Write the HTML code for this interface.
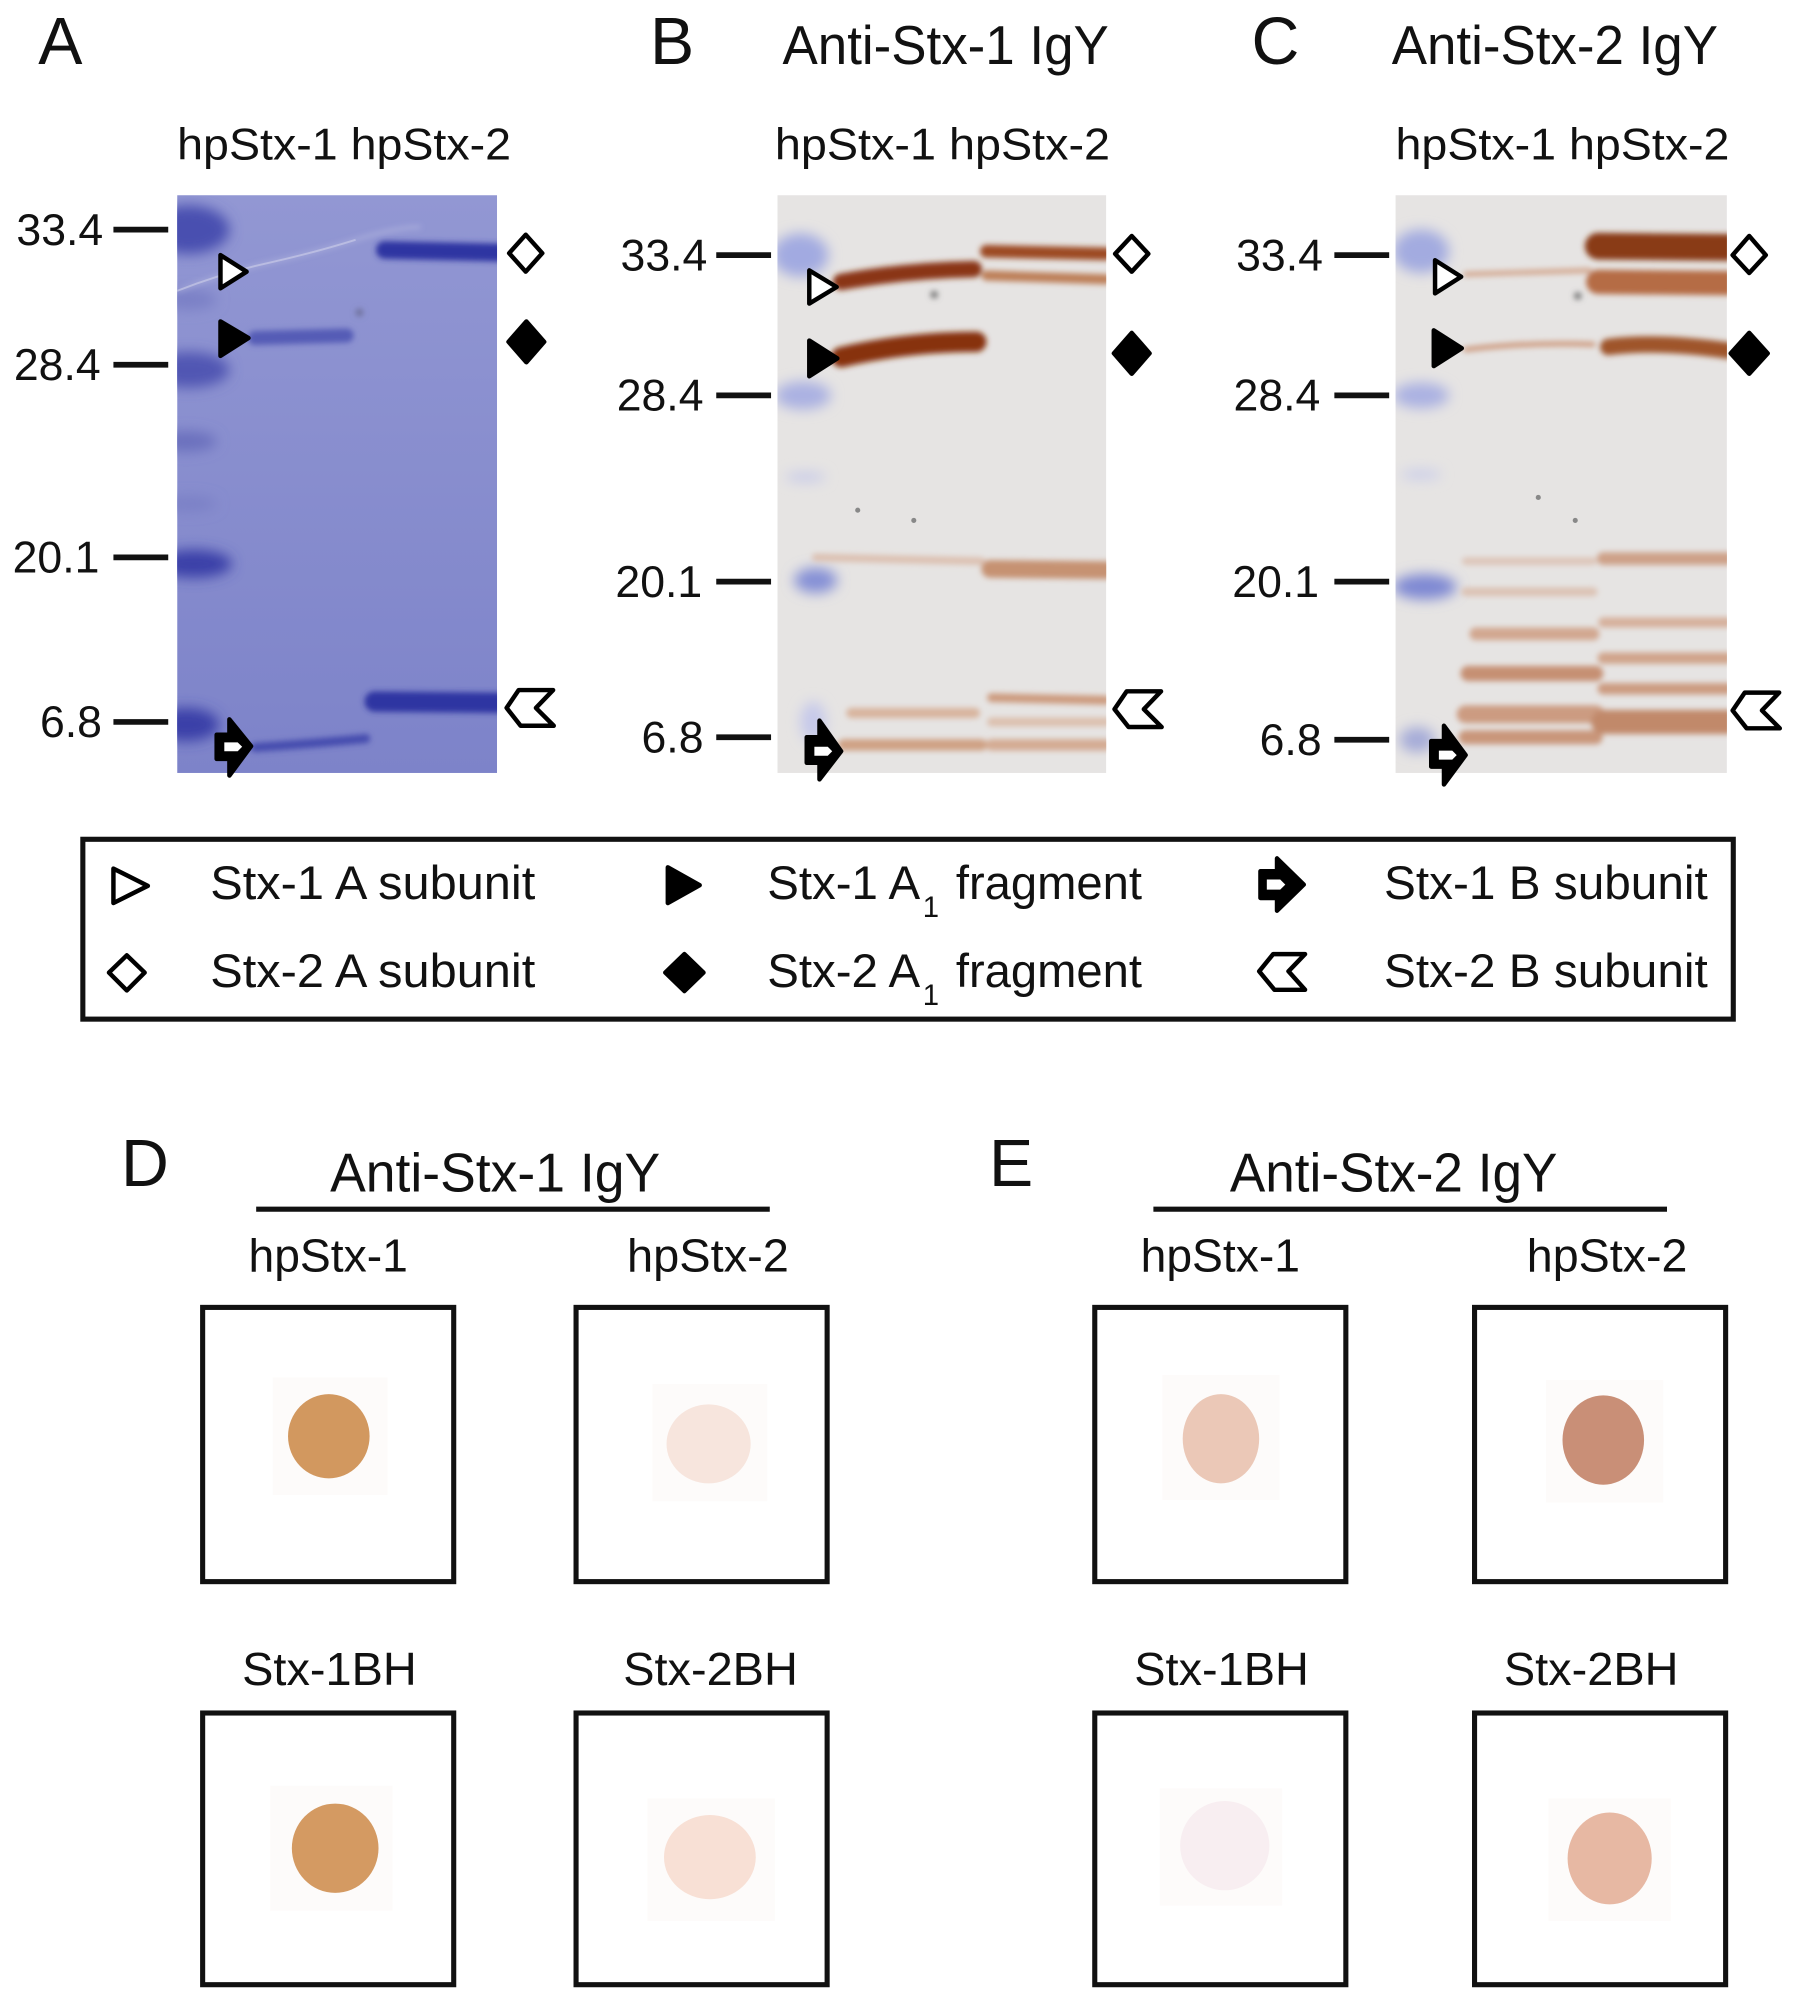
<!DOCTYPE html>
<html><head><meta charset="utf-8">
<style>
html,body{margin:0;padding:0;background:#fff}
svg{display:block}
text{font-family:"Liberation Sans",Arial,Helvetica,sans-serif;fill:#111}
</style></head>
<body>
<svg width="1797" height="2000" viewBox="0 0 1410 1568" preserveAspectRatio="none">
<defs>
<filter id="b2" filterUnits="userSpaceOnUse" x="0" y="0" width="1410" height="1568"><feGaussianBlur stdDeviation="2.2"/></filter>
<filter id="b3" filterUnits="userSpaceOnUse" x="0" y="0" width="1410" height="1568"><feGaussianBlur stdDeviation="3"/></filter>
<filter id="b5" filterUnits="userSpaceOnUse" x="0" y="0" width="1410" height="1568"><feGaussianBlur stdDeviation="5"/></filter>
<linearGradient id="ga" x1="0" y1="0" x2="0" y2="1"><stop offset="0" stop-color="#9297d3"/><stop offset="1" stop-color="#7d83c9"/></linearGradient>
<clipPath id="cA"><rect x="139" y="153" width="251" height="453"/></clipPath>
<clipPath id="cB"><rect x="610" y="153" width="258" height="453"/></clipPath>
<clipPath id="cC"><rect x="1095" y="153" width="260" height="453"/></clipPath>
</defs>

<!-- Panel letters and titles -->
<text x="30" y="50" font-size="52">A</text>
<text x="510" y="50" font-size="52">B</text>
<text x="982" y="50" font-size="52">C</text>
<text x="614" y="50" font-size="43" textLength="256" lengthAdjust="spacingAndGlyphs">Anti-Stx-1 IgY</text>
<text x="1092" y="50" font-size="43" textLength="256" lengthAdjust="spacingAndGlyphs">Anti-Stx-2 IgY</text>
<text x="139" y="125" font-size="35" textLength="262" lengthAdjust="spacingAndGlyphs">hpStx-1 hpStx-2</text>
<text x="608" y="125" font-size="35" textLength="263" lengthAdjust="spacingAndGlyphs">hpStx-1 hpStx-2</text>
<text x="1095" y="125" font-size="35" textLength="262" lengthAdjust="spacingAndGlyphs">hpStx-1 hpStx-2</text>

<!-- ===== Gel A ===== -->
<g clip-path="url(#cA)">
<rect x="139" y="153" width="251" height="453" fill="url(#ga)"/>
<g filter="url(#b5)">
<ellipse cx="148" cy="180" rx="32" ry="19" fill="#4a50b0"/>
<ellipse cx="148" cy="235" rx="22" ry="8" fill="#7a80c6"/>
<ellipse cx="148" cy="290" rx="32" ry="14" fill="#5157b3"/>
<ellipse cx="146" cy="346" rx="24" ry="8" fill="#6a70bd"/>
<ellipse cx="148" cy="395" rx="22" ry="6" fill="#7a80c6"/>
<ellipse cx="152" cy="442" rx="30" ry="11" fill="#3b41a8"/>
<ellipse cx="146" cy="568" rx="26" ry="13" fill="#3b41a8"/>
</g>
<g filter="url(#b2)" stroke-linecap="round" fill="none">
<path d="M200 265 L272 263" stroke="#555bb6" stroke-width="11"/>
<path d="M200 586 Q245 583 287 579" stroke="#454bae" stroke-width="7"/>
<path d="M302 196 L392 198" stroke="#2f35a2" stroke-width="14"/>
<path d="M294 550 L392 551" stroke="#2f35a2" stroke-width="16"/>
</g>
<path d="M139 228 Q175 214 211 206 T279 188 T330 178" stroke="#c4c7e6" stroke-opacity="0.6" stroke-width="2" fill="none" filter="url(#b2)"/>
<path d="M139 228 Q175 214 211 206 T279 188" stroke="#cfd1ea" stroke-opacity="0.6" stroke-width="1.5" fill="none"/>
<circle cx="282" cy="245" r="3" fill="#6d6f99" filter="url(#b2)"/>
</g>

<!-- ===== Gel B ===== -->
<g clip-path="url(#cB)">
<rect x="610" y="153" width="258" height="453" fill="#e6e4e3"/>
<g filter="url(#b5)">
<ellipse cx="628" cy="200" rx="22" ry="17" fill="#a2aae1"/>
<ellipse cx="630" cy="310" rx="22" ry="11" fill="#aab1e2"/>
<ellipse cx="632" cy="374" rx="16" ry="4" fill="#c8cbe8"/>
<ellipse cx="640" cy="455" rx="17" ry="10" fill="#8590d6"/>
<ellipse cx="638" cy="566" rx="10" ry="16" fill="#c6c9ea"/>
</g>
<g filter="url(#b2)" stroke-linecap="round" fill="none">
<path d="M660 221 Q710 212 764 211" stroke="#8a3614" stroke-width="13"/>
<path d="M660 280 Q712 268 766 268" stroke="#87320f" stroke-width="16"/>
<path d="M774 197 L868 199" stroke="#9c4922" stroke-width="10"/>
<path d="M774 216 L868 219" stroke="#bd7f59" stroke-width="8"/>
<path d="M640 437 L770 440" stroke="#dcc0b0" stroke-width="6"/>
<path d="M777 446 L868 447" stroke="#c69272" stroke-width="14"/>
<path d="M668 559 L765 559" stroke="#d8b49d" stroke-width="8"/>
<path d="M662 584 L770 584" stroke="#cfa184" stroke-width="9"/>
<path d="M778 547 L868 549" stroke="#cc9a7d" stroke-width="7"/>
<path d="M778 566 L868 566" stroke="#dcbfad" stroke-width="7"/>
<path d="M778 584 L868 584" stroke="#d4ab93" stroke-width="9"/>
</g>
<circle cx="733" cy="231" r="3" fill="#777" filter="url(#b2)"/>
<circle cx="673" cy="400" r="2" fill="#888"/>
<circle cx="717" cy="408" r="2" fill="#888"/>
</g>

<!-- ===== Gel C ===== -->
<g clip-path="url(#cC)">
<rect x="1095" y="153" width="260" height="453" fill="#e6e4e3"/>
<g filter="url(#b5)">
<ellipse cx="1115" cy="197" rx="22" ry="17" fill="#a3abe0"/>
<ellipse cx="1115" cy="310" rx="22" ry="10" fill="#aab1e2"/>
<ellipse cx="1115" cy="372" rx="16" ry="4" fill="#cbcee9"/>
<ellipse cx="1118" cy="460" rx="25" ry="10" fill="#7e88d3"/>
<ellipse cx="1112" cy="580" rx="14" ry="10" fill="#a6acd8"/>
</g>
<g filter="url(#b2)" stroke-linecap="round" fill="none">
<path d="M1150 215 L1247 212" stroke="#d3a78f" stroke-width="4"/>
<path d="M1150 274 Q1200 268 1250 270" stroke="#cd9a7e" stroke-width="4"/>
<path d="M1150 440 L1250 440" stroke="#ddc5b8" stroke-width="6"/>
<path d="M1150 464 L1250 464" stroke="#dcc2b4" stroke-width="7"/>
<path d="M1158 497 L1250 497" stroke="#d2a790" stroke-width="10"/>
<path d="M1152 528 L1252 528" stroke="#c69073" stroke-width="12"/>
<path d="M1150 560 L1252 560" stroke="#cc9b81" stroke-width="14"/>
<path d="M1150 578 L1252 578" stroke="#c9967a" stroke-width="11"/>
<path d="M1254 193 L1357 194" stroke="#893a17" stroke-width="21"/>
<path d="M1254 221 L1357 222" stroke="#b56c44" stroke-width="19"/>
<path d="M1262 272 Q1300 267 1357 275" stroke="#9f542b" stroke-width="13"/>
<path d="M1258 438 L1357 438" stroke="#cea188" stroke-width="10"/>
<path d="M1258 488 L1357 488" stroke="#d6b09b" stroke-width="8"/>
<path d="M1258 516 L1357 516" stroke="#d0a48b" stroke-width="9"/>
<path d="M1258 540 L1357 540" stroke="#cc9b81" stroke-width="9"/>
<path d="M1258 566 L1357 566" stroke="#c1896b" stroke-width="19"/>
</g>
<circle cx="1238" cy="232" r="3" fill="#777" filter="url(#b2)"/>
<circle cx="1207" cy="390" r="2" fill="#888"/>
<circle cx="1236" cy="408" r="2" fill="#888"/>
</g>

<!-- ===== Tick marks & labels ===== -->
<g stroke="#111" stroke-width="4.5">
<line x1="89" y1="180" x2="132" y2="180"/>
<line x1="89" y1="286" x2="132" y2="286"/>
<line x1="89" y1="437" x2="132" y2="437"/>
<line x1="89" y1="566" x2="132" y2="566"/>
<line x1="562" y1="200" x2="605" y2="200"/>
<line x1="562" y1="310" x2="605" y2="310"/>
<line x1="562" y1="456" x2="605" y2="456"/>
<line x1="562" y1="578" x2="605" y2="578"/>
<line x1="1047" y1="200" x2="1090" y2="200"/>
<line x1="1047" y1="310" x2="1090" y2="310"/>
<line x1="1047" y1="456" x2="1090" y2="456"/>
<line x1="1047" y1="580" x2="1090" y2="580"/>
</g>
<g font-size="35" text-anchor="end">
<text x="81" y="192">33.4</text>
<text x="79" y="298">28.4</text>
<text x="78" y="449">20.1</text>
<text x="80" y="578">6.8</text>
<text x="555" y="212">33.4</text>
<text x="552" y="322">28.4</text>
<text x="551" y="468">20.1</text>
<text x="552" y="590">6.8</text>
<text x="1038" y="212">33.4</text>
<text x="1036" y="322">28.4</text>
<text x="1035" y="468">20.1</text>
<text x="1037" y="592">6.8</text>
</g>

<!-- ===== Markers ===== -->
<g stroke="#000" stroke-width="3.5" stroke-linejoin="round">
<polygon points="173,200 193.5,213 173,226" fill="#fff"/>
<polygon points="635,212 656.5,225 635,238" fill="#fff"/>
<polygon points="1126,204 1146.5,217 1126,230" fill="#fff"/>
<polygon points="89,681 116,694.5 89,708" fill="#fff"/>
<polygon points="173,252 195,265 173,279" fill="#000"/>
<polygon points="635,267 657,281 635,295" fill="#000"/>
<polygon points="1125,259 1147,273 1125,287" fill="#000"/>
<polygon points="524,680 549,694 524,708" fill="#000"/>
<polygon points="412.5,184 425.5,198.5 412.5,213 399.5,198.5" fill="#fff"/>
<polygon points="888,185 901,199 888,213 875,199" fill="#fff"/>
<polygon points="1372.5,185 1385.5,200 1372.5,214 1359.5,200" fill="#fff"/>
<polygon points="99.5,749 113.5,762.5 99.5,776.5 85.5,762.5" fill="#fff"/>
<polygon points="413,252 427,268 413,284 399,268" fill="#000"/>
<polygon points="888,261 902,277 888,293 874,277" fill="#000"/>
<polygon points="1372.5,261 1387,277 1372.5,293 1358,277" fill="#000"/>
<polygon points="537,748 552,762.5 537,777 522,762.5" fill="#000"/>
<polygon points="407,541 434,541 420.5,555 434.5,569 408.5,569 397.5,555" fill="#fff"/>
<polygon points="884,542 911,542 897.5,556 911.5,570 885.5,570 874.5,556" fill="#fff"/>
<polygon points="1369,543 1396,543 1382.5,557 1396.5,571 1370.5,571 1359.5,557" fill="#fff"/>
<polygon points="999,748 1024,748 1011,761.5 1024,776 1000,776 988,761.5" fill="#fff"/>
<polygon points="170,576 180,576 180,564 197,585 180,608 180,595 170,595" fill="#000"/>
<polygon points="633,578 643,578 643,565 660,589 643,611 643,598 633,598" fill="#000"/>
<polygon points="1123,581 1133,581 1133,569 1150,592 1133,615 1133,601 1123,601" fill="#000"/>
<polygon points="989,683 1002,683 1002,673 1023,693.5 1002,714 1002,704 989,704" fill="#000"/>
</g>
<g fill="#fff">
<polygon points="176,582 186.5,582 190,585.5 186.5,589 176,589"/>
<polygon points="639,585.5 649.5,585.5 653,589 649.5,592.5 639,592.5"/>
<polygon points="1129,588.5 1139.5,588.5 1143,592 1139.5,595.5 1129,595.5"/>
<polygon points="994,689.5 1004.5,689.5 1008.5,693.5 1004.5,697.5 994,697.5"/>
</g>

<!-- ===== Legend ===== -->
<rect x="65" y="658" width="1295" height="141" fill="none" stroke="#111" stroke-width="4"/>
<g font-size="37">
<text x="165" y="705" textLength="255" lengthAdjust="spacingAndGlyphs">Stx-1 A subunit</text>
<text x="165" y="774" textLength="255" lengthAdjust="spacingAndGlyphs">Stx-2 A subunit</text>
<text x="602" y="705" textLength="120" lengthAdjust="spacingAndGlyphs">Stx-1 A</text>
<text x="602" y="774" textLength="120" lengthAdjust="spacingAndGlyphs">Stx-2 A</text>
<text x="750" y="705" textLength="146" lengthAdjust="spacingAndGlyphs">fragment</text>
<text x="750" y="774" textLength="146" lengthAdjust="spacingAndGlyphs">fragment</text>
<text x="1086" y="705" textLength="254" lengthAdjust="spacingAndGlyphs">Stx-1 B subunit</text>
<text x="1086" y="774" textLength="254" lengthAdjust="spacingAndGlyphs">Stx-2 B subunit</text>
</g>
<text x="724" y="719" font-size="23">1</text>
<text x="724" y="788" font-size="23">1</text>

<!-- ===== Panel D ===== -->
<text x="95" y="930" font-size="52">D</text>
<text x="259" y="934" font-size="43" textLength="259" lengthAdjust="spacingAndGlyphs">Anti-Stx-1 IgY</text>
<line x1="201" y1="948" x2="604" y2="948" stroke="#111" stroke-width="4"/>
<g font-size="36">
<text x="195" y="997" textLength="125" lengthAdjust="spacingAndGlyphs">hpStx-1</text>
<text x="492" y="997" textLength="127" lengthAdjust="spacingAndGlyphs">hpStx-2</text>
<text x="190" y="1321" textLength="137" lengthAdjust="spacingAndGlyphs">Stx-1BH</text>
<text x="489" y="1321" textLength="137" lengthAdjust="spacingAndGlyphs">Stx-2BH</text>
</g>
<g fill="none" stroke="#111" stroke-width="4">
<rect x="159" y="1025" width="197" height="215"/>
<rect x="452" y="1025" width="197" height="215"/>
<rect x="159" y="1343" width="197" height="213"/>
<rect x="452" y="1343" width="197" height="213"/>
</g>
<g fill="#fdfbfa">
<rect x="214" y="1080" width="90" height="92"/>
<rect x="512" y="1085" width="90" height="92"/>
<rect x="212" y="1400" width="96" height="98"/>
<rect x="508" y="1410" width="100" height="96"/>
</g>
<ellipse cx="258" cy="1126" rx="32" ry="33" fill="#d2985f"/>
<ellipse cx="556" cy="1132" rx="33" ry="31" fill="#f7e5dd"/>
<ellipse cx="263" cy="1449" rx="34" ry="35" fill="#d49a62"/>
<ellipse cx="557" cy="1456" rx="36" ry="33" fill="#f8e0d5"/>

<!-- ===== Panel E ===== -->
<text x="776" y="930" font-size="52">E</text>
<text x="965" y="934" font-size="43" textLength="257" lengthAdjust="spacingAndGlyphs">Anti-Stx-2 IgY</text>
<line x1="905" y1="948" x2="1308" y2="948" stroke="#111" stroke-width="4"/>
<g font-size="36">
<text x="895" y="997" textLength="125" lengthAdjust="spacingAndGlyphs">hpStx-1</text>
<text x="1198" y="997" textLength="126" lengthAdjust="spacingAndGlyphs">hpStx-2</text>
<text x="890" y="1321" textLength="137" lengthAdjust="spacingAndGlyphs">Stx-1BH</text>
<text x="1180" y="1321" textLength="137" lengthAdjust="spacingAndGlyphs">Stx-2BH</text>
</g>
<g fill="none" stroke="#111" stroke-width="4">
<rect x="859" y="1025" width="197" height="215"/>
<rect x="1157" y="1025" width="197" height="215"/>
<rect x="859" y="1343" width="197" height="213"/>
<rect x="1157" y="1343" width="197" height="213"/>
</g>
<g fill="#fdfbfa">
<rect x="912" y="1078" width="92" height="98"/>
<rect x="1213" y="1082" width="92" height="96"/>
<rect x="910" y="1402" width="96" height="92"/>
<rect x="1215" y="1410" width="96" height="96"/>
</g>
<ellipse cx="958" cy="1128" rx="30" ry="35" fill="#ebc8b7"/>
<ellipse cx="1258" cy="1129" rx="32" ry="35" fill="#c98f77"/>
<ellipse cx="961" cy="1447" rx="35" ry="35" fill="#f8eef1"/>
<ellipse cx="1263" cy="1457" rx="33" ry="36" fill="#e7b8a3"/>
</svg>
</body></html>
